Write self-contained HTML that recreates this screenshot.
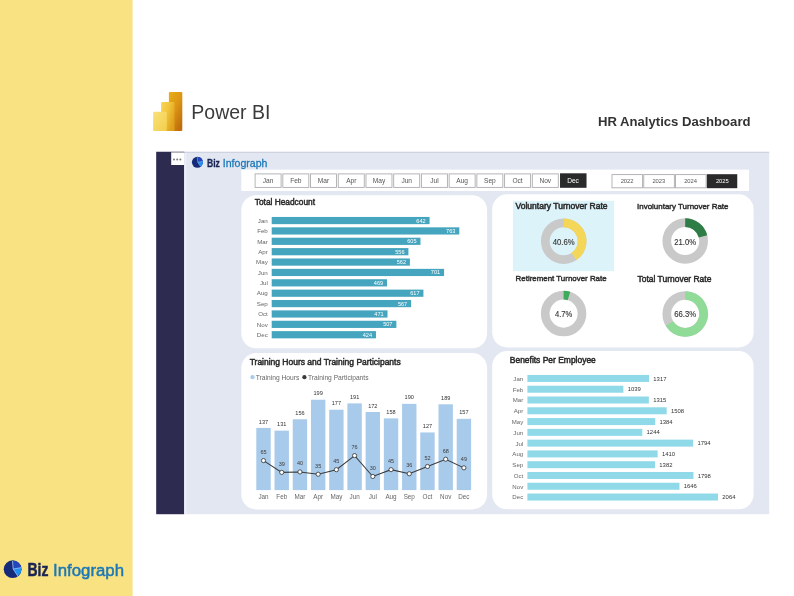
<!DOCTYPE html>
<html lang="en"><head><meta charset="utf-8"><title>HR Analytics Dashboard</title>
<style>html,body{margin:0;padding:0;background:#fff;}body{width:794px;height:596px;overflow:hidden;font-family:"Liberation Sans", sans-serif;}svg{display:block;}</style>
</head><body>
<svg width="794" height="596" viewBox="0 0 794 596" font-family='"Liberation Sans", sans-serif'>
<defs>
<linearGradient id="g1" x1="0" y1="0" x2="0.7" y2="1"><stop offset="0" stop-color="#EAAE18"/><stop offset="0.5" stop-color="#DC9614"/><stop offset="1" stop-color="#C06E0C"/></linearGradient>
<linearGradient id="g2" x1="0" y1="0" x2="1" y2="0.6"><stop offset="0" stop-color="#F8D556"/><stop offset="0.45" stop-color="#F2C63E"/><stop offset="1" stop-color="#DFA01C"/></linearGradient>
<linearGradient id="g3" x1="0" y1="0" x2="1" y2="1"><stop offset="0" stop-color="#F9E278"/><stop offset="1" stop-color="#F3CD4C"/></linearGradient>
</defs>
<rect width="794" height="596" fill="#fff"/>
<rect width="132.6" height="596" fill="#F8E281"/>
<rect x="168.9" y="92.1" width="13.4" height="38.9" rx="1.2" fill="url(#g1)"/>
<rect x="161.1" y="102" width="13.4" height="29" rx="1.2" fill="url(#g2)"/>
<rect x="153.1" y="111.8" width="13.7" height="19.2" rx="1.2" fill="url(#g3)"/>
<text x="191.30" y="118.80" font-size="19.7" fill="#3a3a3a" textLength="79.10" lengthAdjust="spacingAndGlyphs">Power BI</text>
<text x="598.00" y="125.60" font-size="13.2" fill="#333" font-weight="bold" textLength="152.50" lengthAdjust="spacingAndGlyphs">HR Analytics Dashboard</text>
<circle cx="12.65" cy="569.2" r="8.9" fill="#152B7A"/>
<path d="M13.18,569.02 L12.46,560.78 A8.28,8.28 0 0 1 21.34,567.58 Z" fill="#2448BC"/>
<path d="M13.18,569.02 L21.34,567.58 A8.28,8.28 0 0 1 17.69,575.96 Z" fill="#2090F0"/>
<path d="M12.46,560.78 L13.18,569.02 L17.69,575.96 M13.18,569.02 L21.34,567.58" fill="none" stroke="#9CC4F4" stroke-width="0.80" stroke-linejoin="round"/>
<text x="27.50" y="576.30" font-size="18.3" fill="#1A2454" font-weight="bold" textLength="20.90" lengthAdjust="spacingAndGlyphs" stroke="#1A2454" stroke-width="0.5">Biz</text>
<text x="53.10" y="576.20" font-size="17.4" fill="#1B78B8" textLength="70.90" lengthAdjust="spacingAndGlyphs" stroke="#1B78B8" stroke-width="0.5">Infograph</text>
<rect x="156.2" y="151.8" width="613" height="362.4" fill="#E3E7F2"/>
<rect x="156.2" y="151.8" width="613" height="1.1" fill="#CDD1DE"/>
<rect x="156.2" y="151.8" width="28" height="362.4" fill="#2D2C50"/>
<rect x="184.2" y="152.9" width="2.2" height="361.3" fill="#EDEFF7"/>
<rect x="171.2" y="152.6" width="13" height="12.4" fill="#fff"/>
<rect x="171.2" y="151.8" width="13" height="0.9" fill="#C9C9CF"/>
<circle cx="174.00" cy="159.4" r="1.0" fill="#777"/>
<circle cx="177.20" cy="159.4" r="1.0" fill="#777"/>
<circle cx="180.40" cy="159.4" r="1.0" fill="#777"/>
<circle cx="197.4" cy="162.3" r="5.5" fill="#152B7A"/>
<path d="M197.73,162.19 L197.28,157.09 A5.12,5.12 0 0 1 202.77,161.30 Z" fill="#2448BC"/>
<path d="M197.73,162.19 L202.77,161.30 A5.12,5.12 0 0 1 200.52,166.48 Z" fill="#2090F0"/>
<path d="M197.28,157.09 L197.73,162.19 L200.52,166.48 M197.73,162.19 L202.77,161.30" fill="none" stroke="#9CC4F4" stroke-width="0.49" stroke-linejoin="round"/>
<text x="207.00" y="166.60" font-size="11.4" fill="#1A2454" font-weight="bold" textLength="12.90" lengthAdjust="spacingAndGlyphs" stroke="#1A2454" stroke-width="0.3">Biz</text>
<text x="222.80" y="166.60" font-size="10.9" fill="#1B78B8" textLength="44.60" lengthAdjust="spacingAndGlyphs" stroke="#1B78B8" stroke-width="0.3">Infograph</text>
<rect x="241.3" y="169.6" width="507.7" height="21.4" fill="#fff"/>
<rect x="255.10" y="173.9" width="26" height="13.5" fill="#fff" stroke="#ADADAD" stroke-width="0.9"/>
<text x="268.10" y="183.10" font-size="6.6" fill="#555" text-anchor="middle">Jan</text>
<rect x="282.82" y="173.9" width="26" height="13.5" fill="#fff" stroke="#ADADAD" stroke-width="0.9"/>
<text x="295.82" y="183.10" font-size="6.6" fill="#555" text-anchor="middle">Feb</text>
<rect x="310.54" y="173.9" width="26" height="13.5" fill="#fff" stroke="#ADADAD" stroke-width="0.9"/>
<text x="323.54" y="183.10" font-size="6.6" fill="#555" text-anchor="middle">Mar</text>
<rect x="338.26" y="173.9" width="26" height="13.5" fill="#fff" stroke="#ADADAD" stroke-width="0.9"/>
<text x="351.26" y="183.10" font-size="6.6" fill="#555" text-anchor="middle">Apr</text>
<rect x="365.98" y="173.9" width="26" height="13.5" fill="#fff" stroke="#ADADAD" stroke-width="0.9"/>
<text x="378.98" y="183.10" font-size="6.6" fill="#555" text-anchor="middle">May</text>
<rect x="393.70" y="173.9" width="26" height="13.5" fill="#fff" stroke="#ADADAD" stroke-width="0.9"/>
<text x="406.70" y="183.10" font-size="6.6" fill="#555" text-anchor="middle">Jun</text>
<rect x="421.42" y="173.9" width="26" height="13.5" fill="#fff" stroke="#ADADAD" stroke-width="0.9"/>
<text x="434.42" y="183.10" font-size="6.6" fill="#555" text-anchor="middle">Jul</text>
<rect x="449.14" y="173.9" width="26" height="13.5" fill="#fff" stroke="#ADADAD" stroke-width="0.9"/>
<text x="462.14" y="183.10" font-size="6.6" fill="#555" text-anchor="middle">Aug</text>
<rect x="476.86" y="173.9" width="26" height="13.5" fill="#fff" stroke="#ADADAD" stroke-width="0.9"/>
<text x="489.86" y="183.10" font-size="6.6" fill="#555" text-anchor="middle">Sep</text>
<rect x="504.58" y="173.9" width="26" height="13.5" fill="#fff" stroke="#ADADAD" stroke-width="0.9"/>
<text x="517.58" y="183.10" font-size="6.6" fill="#555" text-anchor="middle">Oct</text>
<rect x="532.30" y="173.9" width="26" height="13.5" fill="#fff" stroke="#ADADAD" stroke-width="0.9"/>
<text x="545.30" y="183.10" font-size="6.6" fill="#555" text-anchor="middle">Nov</text>
<rect x="560.02" y="173.3" width="26.5" height="14.5" fill="#2a2a2a"/>
<text x="573.02" y="183.10" font-size="6.6" fill="#fff" text-anchor="middle">Dec</text>
<rect x="612.00" y="174.6" width="30.6" height="13.2" fill="#fff" stroke="#ADADAD" stroke-width="0.9"/>
<text x="627.10" y="183.30" font-size="5.8" fill="#555" text-anchor="middle">2022</text>
<rect x="643.75" y="174.6" width="30.6" height="13.2" fill="#fff" stroke="#ADADAD" stroke-width="0.9"/>
<text x="658.85" y="183.30" font-size="5.8" fill="#555" text-anchor="middle">2023</text>
<rect x="675.50" y="174.6" width="30.6" height="13.2" fill="#fff" stroke="#ADADAD" stroke-width="0.9"/>
<text x="690.60" y="183.30" font-size="5.8" fill="#555" text-anchor="middle">2024</text>
<rect x="706.85" y="174.2" width="30.4" height="14" fill="#2a2a2a"/>
<text x="722.35" y="183.30" font-size="5.8" fill="#fff" text-anchor="middle">2025</text>
<rect x="241.3" y="195.2" width="245.8" height="153.1" rx="15" fill="#fff"/>
<rect x="492.2" y="194.3" width="261.4" height="153.2" rx="15" fill="#fff"/>
<rect x="241.3" y="353" width="245.8" height="156.4" rx="15" fill="#fff"/>
<rect x="492.2" y="351.1" width="261.4" height="158.2" rx="15" fill="#fff"/>
<text x="254.80" y="204.60" font-size="8.8" fill="#2b2b2b" textLength="60.20" lengthAdjust="spacingAndGlyphs" stroke="#2b2b2b" stroke-width="0.5">Total Headcount</text>
<rect x="271.7" y="216.95" width="157.87" height="7.2" fill="#45A5BE"/>
<text x="267.80" y="222.75" font-size="6.2" fill="#666" text-anchor="end">Jan</text>
<text x="425.67" y="222.55" font-size="5.6" fill="#fff" text-anchor="end">642</text>
<rect x="271.7" y="227.33" width="187.62" height="7.2" fill="#45A5BE"/>
<text x="267.80" y="233.13" font-size="6.2" fill="#666" text-anchor="end">Feb</text>
<text x="455.42" y="232.93" font-size="5.6" fill="#fff" text-anchor="end">763</text>
<rect x="271.7" y="237.71" width="148.77" height="7.2" fill="#45A5BE"/>
<text x="267.80" y="243.51" font-size="6.2" fill="#666" text-anchor="end">Mar</text>
<text x="416.57" y="243.31" font-size="5.6" fill="#fff" text-anchor="end">605</text>
<rect x="271.7" y="248.09" width="136.72" height="7.2" fill="#45A5BE"/>
<text x="267.80" y="253.89" font-size="6.2" fill="#666" text-anchor="end">Apr</text>
<text x="404.52" y="253.69" font-size="5.6" fill="#fff" text-anchor="end">556</text>
<rect x="271.7" y="258.47" width="138.20" height="7.2" fill="#45A5BE"/>
<text x="267.80" y="264.27" font-size="6.2" fill="#666" text-anchor="end">May</text>
<text x="406.00" y="264.07" font-size="5.6" fill="#fff" text-anchor="end">562</text>
<rect x="271.7" y="268.85" width="172.38" height="7.2" fill="#45A5BE"/>
<text x="267.80" y="274.65" font-size="6.2" fill="#666" text-anchor="end">Jun</text>
<text x="440.18" y="274.45" font-size="5.6" fill="#fff" text-anchor="end">701</text>
<rect x="271.7" y="279.23" width="115.33" height="7.2" fill="#45A5BE"/>
<text x="267.80" y="285.03" font-size="6.2" fill="#666" text-anchor="end">Jul</text>
<text x="383.13" y="284.83" font-size="5.6" fill="#fff" text-anchor="end">469</text>
<rect x="271.7" y="289.61" width="151.72" height="7.2" fill="#45A5BE"/>
<text x="267.80" y="295.41" font-size="6.2" fill="#666" text-anchor="end">Aug</text>
<text x="419.52" y="295.21" font-size="5.6" fill="#fff" text-anchor="end">617</text>
<rect x="271.7" y="299.99" width="139.43" height="7.2" fill="#45A5BE"/>
<text x="267.80" y="305.79" font-size="6.2" fill="#666" text-anchor="end">Sep</text>
<text x="407.23" y="305.59" font-size="5.6" fill="#fff" text-anchor="end">567</text>
<rect x="271.7" y="310.37" width="115.82" height="7.2" fill="#45A5BE"/>
<text x="267.80" y="316.17" font-size="6.2" fill="#666" text-anchor="end">Oct</text>
<text x="383.62" y="315.97" font-size="5.6" fill="#fff" text-anchor="end">471</text>
<rect x="271.7" y="320.75" width="124.67" height="7.2" fill="#45A5BE"/>
<text x="267.80" y="326.55" font-size="6.2" fill="#666" text-anchor="end">Nov</text>
<text x="392.47" y="326.35" font-size="5.6" fill="#fff" text-anchor="end">507</text>
<rect x="271.7" y="331.13" width="104.26" height="7.2" fill="#45A5BE"/>
<text x="267.80" y="336.93" font-size="6.2" fill="#666" text-anchor="end">Dec</text>
<text x="372.06" y="336.73" font-size="5.6" fill="#fff" text-anchor="end">424</text>
<rect x="512.9" y="200.8" width="101.2" height="70.4" fill="#DDF3FA"/>
<circle cx="563.7" cy="241.2" r="18.4" fill="none" stroke="#C9C9C9" stroke-width="8.7"/>
<path d="M563.70,222.80 A18.4,18.4 0 0 1 573.95,256.48" fill="none" stroke="#F4D758" stroke-width="8.7"/>
<text x="563.70" y="245.00" font-size="8.2" fill="#333" text-anchor="middle" textLength="21.90" lengthAdjust="spacingAndGlyphs" stroke="#333" stroke-width="0.12">40.6%</text>
<circle cx="685.2" cy="241.0" r="18.4" fill="none" stroke="#C9C9C9" stroke-width="8.7"/>
<path d="M685.20,222.60 A18.4,18.4 0 0 1 703.02,236.42" fill="none" stroke="#2E7D46" stroke-width="8.7"/>
<text x="685.20" y="245.10" font-size="8.2" fill="#333" text-anchor="middle" textLength="21.90" lengthAdjust="spacingAndGlyphs" stroke="#333" stroke-width="0.12">21.0%</text>
<circle cx="563.6" cy="313.6" r="18.4" fill="none" stroke="#C9C9C9" stroke-width="8.7"/>
<path d="M563.60,295.20 A18.4,18.4 0 0 1 568.96,296.00" fill="none" stroke="#3DAA5C" stroke-width="8.7"/>
<text x="563.60" y="317.00" font-size="8.2" fill="#333" text-anchor="middle" textLength="17.40" lengthAdjust="spacingAndGlyphs" stroke="#333" stroke-width="0.12">4.7%</text>
<circle cx="685.2" cy="313.9" r="18.4" fill="none" stroke="#C9C9C9" stroke-width="8.7"/>
<path d="M685.20,295.50 A18.4,18.4 0 1 1 669.48,323.46" fill="none" stroke="#8FDB97" stroke-width="8.7"/>
<text x="685.20" y="317.10" font-size="8.2" fill="#333" text-anchor="middle" textLength="21.90" lengthAdjust="spacingAndGlyphs" stroke="#333" stroke-width="0.12">66.3%</text>
<text x="515.50" y="208.90" font-size="8.2" fill="#2b2b2b" textLength="92.00" lengthAdjust="spacingAndGlyphs" stroke="#2b2b2b" stroke-width="0.5">Voluntary Turnover Rate</text>
<text x="637.10" y="208.70" font-size="7.9" fill="#2b2b2b" textLength="91.40" lengthAdjust="spacingAndGlyphs" stroke="#2b2b2b" stroke-width="0.42">Involuntary Turnover Rate</text>
<text x="515.60" y="281.30" font-size="8.0" fill="#2b2b2b" textLength="91.00" lengthAdjust="spacingAndGlyphs" stroke="#2b2b2b" stroke-width="0.42">Retirement Turnover Rate</text>
<text x="637.50" y="281.90" font-size="9.0" fill="#2b2b2b" textLength="73.90" lengthAdjust="spacingAndGlyphs" stroke="#2b2b2b" stroke-width="0.5">Total Turnover Rate</text>
<text x="249.70" y="365.30" font-size="8.6" fill="#2b2b2b" textLength="151.00" lengthAdjust="spacingAndGlyphs" stroke="#2b2b2b" stroke-width="0.5">Training Hours and Training Participants</text>
<circle cx="252.5" cy="377.2" r="2.1" fill="#A9CBEB"/>
<text x="255.80" y="379.50" font-size="6.7" fill="#666" textLength="43.50" lengthAdjust="spacingAndGlyphs">Training Hours</text>
<circle cx="304.4" cy="377.2" r="2.1" fill="#3a3a3a"/>
<text x="308.00" y="379.50" font-size="6.7" fill="#666" textLength="60.50" lengthAdjust="spacingAndGlyphs">Training Participants</text>
<rect x="256.30" y="427.90" width="14.4" height="62.20" fill="#A9CBEB"/>
<text x="263.50" y="423.50" font-size="5.6" fill="#333" text-anchor="middle">137</text>
<text x="263.50" y="498.60" font-size="6.3" fill="#666" text-anchor="middle">Jan</text>
<rect x="274.52" y="430.63" width="14.4" height="59.47" fill="#A9CBEB"/>
<text x="281.72" y="426.23" font-size="5.6" fill="#333" text-anchor="middle">131</text>
<text x="281.72" y="498.60" font-size="6.3" fill="#666" text-anchor="middle">Feb</text>
<rect x="292.74" y="419.28" width="14.4" height="70.82" fill="#A9CBEB"/>
<text x="299.94" y="414.88" font-size="5.6" fill="#333" text-anchor="middle">156</text>
<text x="299.94" y="498.60" font-size="6.3" fill="#666" text-anchor="middle">Mar</text>
<rect x="310.96" y="399.75" width="14.4" height="90.35" fill="#A9CBEB"/>
<text x="318.16" y="395.35" font-size="5.6" fill="#333" text-anchor="middle">199</text>
<text x="318.16" y="498.60" font-size="6.3" fill="#666" text-anchor="middle">Apr</text>
<rect x="329.18" y="409.74" width="14.4" height="80.36" fill="#A9CBEB"/>
<text x="336.38" y="405.34" font-size="5.6" fill="#333" text-anchor="middle">177</text>
<text x="336.38" y="498.60" font-size="6.3" fill="#666" text-anchor="middle">May</text>
<rect x="347.40" y="403.39" width="14.4" height="86.71" fill="#A9CBEB"/>
<text x="354.60" y="398.99" font-size="5.6" fill="#333" text-anchor="middle">191</text>
<text x="354.60" y="498.60" font-size="6.3" fill="#666" text-anchor="middle">Jun</text>
<rect x="365.62" y="412.01" width="14.4" height="78.09" fill="#A9CBEB"/>
<text x="372.82" y="407.61" font-size="5.6" fill="#333" text-anchor="middle">172</text>
<text x="372.82" y="498.60" font-size="6.3" fill="#666" text-anchor="middle">Jul</text>
<rect x="383.84" y="418.37" width="14.4" height="71.73" fill="#A9CBEB"/>
<text x="391.04" y="413.97" font-size="5.6" fill="#333" text-anchor="middle">158</text>
<text x="391.04" y="498.60" font-size="6.3" fill="#666" text-anchor="middle">Aug</text>
<rect x="402.06" y="403.84" width="14.4" height="86.26" fill="#A9CBEB"/>
<text x="409.26" y="399.44" font-size="5.6" fill="#333" text-anchor="middle">190</text>
<text x="409.26" y="498.60" font-size="6.3" fill="#666" text-anchor="middle">Sep</text>
<rect x="420.28" y="432.44" width="14.4" height="57.66" fill="#A9CBEB"/>
<text x="427.48" y="428.04" font-size="5.6" fill="#333" text-anchor="middle">127</text>
<text x="427.48" y="498.60" font-size="6.3" fill="#666" text-anchor="middle">Oct</text>
<rect x="438.50" y="404.29" width="14.4" height="85.81" fill="#A9CBEB"/>
<text x="445.70" y="399.89" font-size="5.6" fill="#333" text-anchor="middle">189</text>
<text x="445.70" y="498.60" font-size="6.3" fill="#666" text-anchor="middle">Nov</text>
<rect x="456.72" y="418.82" width="14.4" height="71.28" fill="#A9CBEB"/>
<text x="463.92" y="414.42" font-size="5.6" fill="#333" text-anchor="middle">157</text>
<text x="463.92" y="498.60" font-size="6.3" fill="#666" text-anchor="middle">Dec</text>
<polyline points="263.50,460.59 281.72,472.39 299.94,471.94 318.16,474.21 336.38,469.67 354.60,455.60 372.82,476.48 391.04,469.67 409.26,473.76 427.48,466.49 445.70,459.23 463.92,467.85" fill="none" stroke="#3a3a3a" stroke-width="1.05"/>
<circle cx="263.50" cy="460.59" r="2.1" fill="#fff" stroke="#3a3a3a" stroke-width="0.85"/>
<text x="263.50" y="453.99" font-size="5.5" fill="#3a3a3a" text-anchor="middle">65</text>
<circle cx="281.72" cy="472.39" r="2.1" fill="#fff" stroke="#3a3a3a" stroke-width="0.85"/>
<text x="281.72" y="465.79" font-size="5.5" fill="#3a3a3a" text-anchor="middle">39</text>
<circle cx="299.94" cy="471.94" r="2.1" fill="#fff" stroke="#3a3a3a" stroke-width="0.85"/>
<text x="299.94" y="465.34" font-size="5.5" fill="#3a3a3a" text-anchor="middle">40</text>
<circle cx="318.16" cy="474.21" r="2.1" fill="#fff" stroke="#3a3a3a" stroke-width="0.85"/>
<text x="318.16" y="467.61" font-size="5.5" fill="#3a3a3a" text-anchor="middle">35</text>
<circle cx="336.38" cy="469.67" r="2.1" fill="#fff" stroke="#3a3a3a" stroke-width="0.85"/>
<text x="336.38" y="463.07" font-size="5.5" fill="#3a3a3a" text-anchor="middle">45</text>
<circle cx="354.60" cy="455.60" r="2.1" fill="#fff" stroke="#3a3a3a" stroke-width="0.85"/>
<text x="354.60" y="449.00" font-size="5.5" fill="#3a3a3a" text-anchor="middle">76</text>
<circle cx="372.82" cy="476.48" r="2.1" fill="#fff" stroke="#3a3a3a" stroke-width="0.85"/>
<text x="372.82" y="469.88" font-size="5.5" fill="#3a3a3a" text-anchor="middle">30</text>
<circle cx="391.04" cy="469.67" r="2.1" fill="#fff" stroke="#3a3a3a" stroke-width="0.85"/>
<text x="391.04" y="463.07" font-size="5.5" fill="#3a3a3a" text-anchor="middle">45</text>
<circle cx="409.26" cy="473.76" r="2.1" fill="#fff" stroke="#3a3a3a" stroke-width="0.85"/>
<text x="409.26" y="467.16" font-size="5.5" fill="#3a3a3a" text-anchor="middle">36</text>
<circle cx="427.48" cy="466.49" r="2.1" fill="#fff" stroke="#3a3a3a" stroke-width="0.85"/>
<text x="427.48" y="459.89" font-size="5.5" fill="#3a3a3a" text-anchor="middle">52</text>
<circle cx="445.70" cy="459.23" r="2.1" fill="#fff" stroke="#3a3a3a" stroke-width="0.85"/>
<text x="445.70" y="452.63" font-size="5.5" fill="#3a3a3a" text-anchor="middle">68</text>
<circle cx="463.92" cy="467.85" r="2.1" fill="#fff" stroke="#3a3a3a" stroke-width="0.85"/>
<text x="463.92" y="461.25" font-size="5.5" fill="#3a3a3a" text-anchor="middle">49</text>
<text x="509.80" y="362.90" font-size="8.6" fill="#2b2b2b" textLength="86.00" lengthAdjust="spacingAndGlyphs" stroke="#2b2b2b" stroke-width="0.5">Benefits Per Employee</text>
<rect x="527.4" y="374.95" width="121.64" height="7" fill="#8FD9E9"/>
<text x="523.20" y="380.85" font-size="6.1" fill="#666" text-anchor="end">Jan</text>
<text x="653.34" y="380.55" font-size="5.9" fill="#333">1317</text>
<rect x="527.4" y="385.73" width="95.96" height="7" fill="#8FD9E9"/>
<text x="523.20" y="391.63" font-size="6.1" fill="#666" text-anchor="end">Feb</text>
<text x="627.66" y="391.33" font-size="5.9" fill="#333">1039</text>
<rect x="527.4" y="396.51" width="121.45" height="7" fill="#8FD9E9"/>
<text x="523.20" y="402.41" font-size="6.1" fill="#666" text-anchor="end">Mar</text>
<text x="653.15" y="402.11" font-size="5.9" fill="#333">1315</text>
<rect x="527.4" y="407.29" width="139.28" height="7" fill="#8FD9E9"/>
<text x="523.20" y="413.19" font-size="6.1" fill="#666" text-anchor="end">Apr</text>
<text x="670.98" y="412.89" font-size="5.9" fill="#333">1508</text>
<rect x="527.4" y="418.07" width="127.83" height="7" fill="#8FD9E9"/>
<text x="523.20" y="423.97" font-size="6.1" fill="#666" text-anchor="end">May</text>
<text x="659.53" y="423.67" font-size="5.9" fill="#333">1384</text>
<rect x="527.4" y="428.85" width="114.90" height="7" fill="#8FD9E9"/>
<text x="523.20" y="434.75" font-size="6.1" fill="#666" text-anchor="end">Jun</text>
<text x="646.60" y="434.45" font-size="5.9" fill="#333">1244</text>
<rect x="527.4" y="439.63" width="165.69" height="7" fill="#8FD9E9"/>
<text x="523.20" y="445.53" font-size="6.1" fill="#666" text-anchor="end">Jul</text>
<text x="697.39" y="445.23" font-size="5.9" fill="#333">1794</text>
<rect x="527.4" y="450.41" width="130.23" height="7" fill="#8FD9E9"/>
<text x="523.20" y="456.31" font-size="6.1" fill="#666" text-anchor="end">Aug</text>
<text x="661.93" y="456.01" font-size="5.9" fill="#333">1410</text>
<rect x="527.4" y="461.19" width="127.64" height="7" fill="#8FD9E9"/>
<text x="523.20" y="467.09" font-size="6.1" fill="#666" text-anchor="end">Sep</text>
<text x="659.34" y="466.79" font-size="5.9" fill="#333">1382</text>
<rect x="527.4" y="471.97" width="166.06" height="7" fill="#8FD9E9"/>
<text x="523.20" y="477.87" font-size="6.1" fill="#666" text-anchor="end">Oct</text>
<text x="697.76" y="477.57" font-size="5.9" fill="#333">1798</text>
<rect x="527.4" y="482.75" width="152.02" height="7" fill="#8FD9E9"/>
<text x="523.20" y="488.65" font-size="6.1" fill="#666" text-anchor="end">Nov</text>
<text x="683.72" y="488.35" font-size="5.9" fill="#333">1646</text>
<rect x="527.4" y="493.53" width="190.63" height="7" fill="#8FD9E9"/>
<text x="523.20" y="499.43" font-size="6.1" fill="#666" text-anchor="end">Dec</text>
<text x="722.33" y="499.13" font-size="5.9" fill="#333">2064</text>
</svg>
</body></html>
